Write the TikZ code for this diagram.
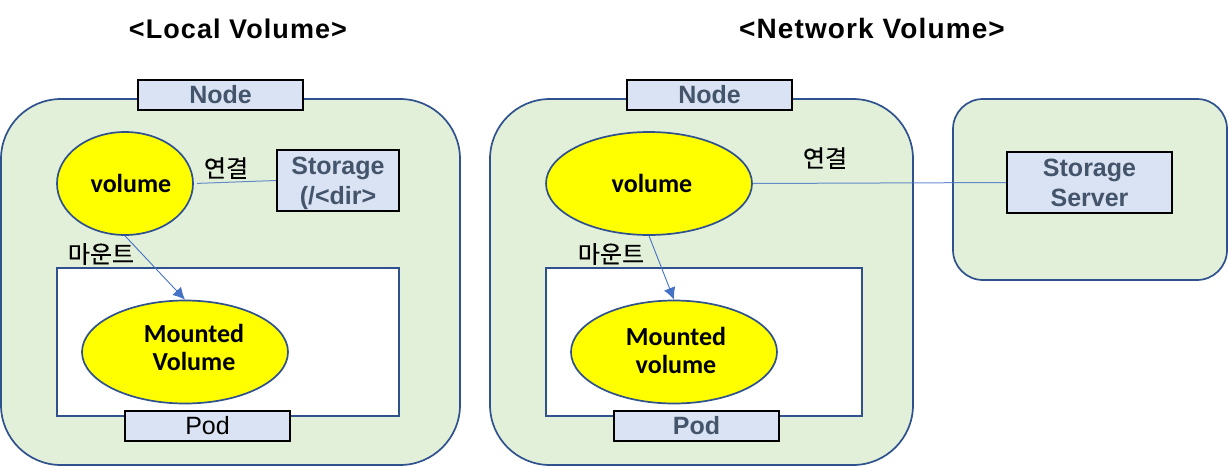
\documentclass[tikz,border=0pt]{standalone}
\usepackage{fontspec}
\setmainfont{Liberation Sans}
\newfontfamily\cjk[FakeBold=0.3]{Noto Sans CJK KR}
\newfontfamily\lab{Carlito}
\newfontfamily\ttl[LetterSpace=4]{Liberation Sans}
\usetikzlibrary{shapes.geometric,arrows.meta}
\definecolor{grn}{HTML}{E2F0D9}
\definecolor{edge}{HTML}{2F528F}
\definecolor{tagf}{HTML}{DAE3F3}
\definecolor{slate}{HTML}{44546A}
\definecolor{link}{HTML}{4472C4}
\definecolor{yel}{RGB}{255,255,0}
\tikzset{
 host/.style={draw=edge,fill=grn,line width=1.7pt,rounded corners=#1},
 podbox/.style={draw=edge,fill=white,line width=1.7pt,rectangle,inner sep=0},
 tag/.style={draw=black,fill=tagf,line width=1.7pt,rectangle,inner sep=0,align=center,font=\fontsize{25}{30}\selectfont\bfseries,text=slate},
 vol/.style={draw=edge,fill=yel,line width=1.7pt,ellipse,inner sep=0,align=center,font=\lab\fontsize{26}{28}\selectfont\bfseries,text=black},
 title/.style={font=\ttl\fontsize{27}{32}\selectfont\bfseries,text=black},
 kor/.style={font=\cjk\fontsize{24}{28}\selectfont,text=black},
 lnk/.style={draw=link,line width=1pt,opacity=.8},
 mnt/.style={draw=link,line width=.9pt,-{Latex[length=12pt,width=12pt]}},
}
\begin{document}
\begin{tikzpicture}[x=1pt,y=-1pt]
\useasboundingbox (0,0) rectangle (1228,466);
\fill[white] (0,0) rectangle (1228,466);
\node[title] (t1) at (238,29) {<Local Volume>};
\node[title,font=\ttl\fontsize{28}{32}\selectfont\bfseries] (t2) at (872,28) {<Network Volume>};
% hosts
\node[host=60pt,rectangle,minimum width=459pt,minimum height=366pt,inner sep=0] (h1) at (230.5,282) {};
\node[host=60pt,rectangle,minimum width=423pt,minimum height=366pt,inner sep=0] (h2) at (701.5,282) {};
\node[host=30pt,rectangle,minimum width=274pt,minimum height=181pt,inner sep=0] (h3) at (1090,189.5) {};
% pods
\node[podbox,minimum width=342pt,minimum height=148pt] (p1) at (228,342) {};
\node[podbox,minimum width=316pt,minimum height=148pt] (p2) at (704,342) {};
% tags
\node[tag,minimum width=165pt,minimum height=30pt] (n1) at (220.5,95) {Node};
\node[tag,minimum width=165pt,minimum height=30pt] (n2) at (709.5,95) {Node};
\node[tag,minimum width=165pt,minimum height=30pt,font=\fontsize{25}{30}\selectfont,text=black] (q1) at (207.5,426) {Pod};
\node[tag,minimum width=165pt,minimum height=30pt] (q2) at (696.5,426) {Pod};
\node[tag,minimum width=122pt,minimum height=61pt] (s1) at (338,180.5) {\rule{0pt}{24pt}Storage\\(/<dir>};
\node[tag,minimum width=165pt,minimum height=61pt] (s2) at (1089.5,182.5) {Storage\\Server};
% ellipses
\node[vol,minimum width=136pt,minimum height=103pt] (v1) at (125,183.5) {\kern12pt volume};
\node[vol,minimum width=206pt,minimum height=103pt] (v2) at (649,183.5) {\kern6pt volume};
\node[vol,minimum width=206pt,minimum height=103pt] (m1) at (185,352) {\kern18pt Mounted\\\kern18pt Volume\rule[-9pt]{0pt}{9pt}};
\node[vol,minimum width=206pt,minimum height=103pt] (m2) at (674,352) {\kern4pt Mounted\\\kern4pt volume\rule[-3pt]{0pt}{3pt}};
% connectors
\draw[lnk,shorten <=3pt] (v1.east) -- (s1.west);
\draw[lnk] (v2.east) -- (s2.west);
\draw[mnt] (v1.south) -- (m1.north);
\draw[mnt] (v2.south) -- (m2.north);
% labels
\node[kor] (c1) at (226,168) {연결};
\node[kor] (c2) at (825,158) {연결};
\node[kor] (d1) at (101,254) {마운트};
\node[kor] (d2) at (611,254) {마운트};
\end{tikzpicture}
\end{document}
